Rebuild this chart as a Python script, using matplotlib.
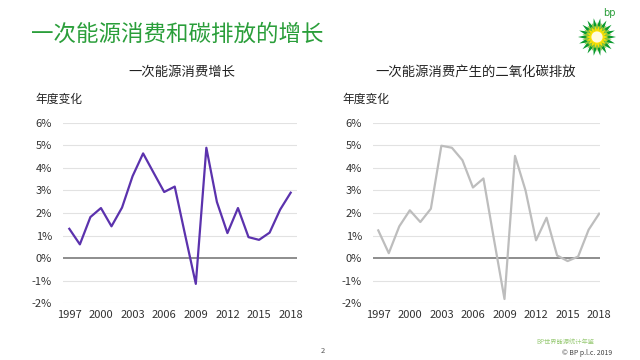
# 一次能源消费和碳排放的增长 (BP 2019)

import matplotlib
matplotlib.use("Agg")
import matplotlib.pyplot as plt
import numpy as np

plt.rcParams['font.family'] = ['Noto Sans CJK SC', 'DejaVu Sans']

years = list(range(1997, 2019))
energy_growth = [1.30, 0.61, 1.82, 2.22, 1.41, 2.24, 3.63, 4.64, 3.78, 2.93, 3.17,
                 1.00, -1.14, 4.89, 2.49, 1.11, 2.22, 0.93, 0.81, 1.13, 2.15, 2.90]
co2_growth = [1.23, 0.22, 1.41, 2.12, 1.60, 2.19, 4.98, 4.89, 4.34, 3.13, 3.53,
              0.83, -1.81, 4.53, 3.00, 0.79, 1.79, 0.12, -0.13, 0.07, 1.26, 1.97]
year_ticks = [1997, 2000, 2003, 2006, 2009, 2012, 2015, 2018]
pct_ticks = [-2, -1, 0, 1, 2, 3, 4, 5, 6]

title = "一次能源消费和碳排放的增长"
sub_left = "一次能源消费增长"
sub_right = "一次能源消费产生的二氧化碳排放"
ylab = "年度变化"

GREEN = "#2a9e3a"
W, H = 640, 360


def style_ax(ax, xlim):
    ax.set_xlim(*xlim)
    ax.set_ylim(-2, 6)
    for s in ax.spines.values():
        s.set_visible(False)
    ax.tick_params(length=0, labelsize=8, colors="#333333")
    ax.tick_params(axis='y', pad=8)
    ax.tick_params(axis='x', pad=5)
    ax.set_yticks(pct_ticks)
    ax.set_yticklabels([f"{v}%" for v in pct_ticks])
    ax.set_xticks(year_ticks)
    ax.set_xticklabels([str(y) for y in year_ticks])
    for v in pct_ticks:
        if v == 0:
            continue
        ax.axhline(v, color="#e2e2e2", lw=0.8, zorder=1)
    ax.axhline(0, color="#7a7a7a", lw=1.2, zorder=2)


def draw_logo(fig):
    lax = fig.add_axes([577 / W, 1 - 57 / H, 40 / W, 40 / H])
    lax.set_xlim(-1, 1)
    lax.set_ylim(-1, 1)
    lax.set_aspect('equal')
    lax.axis('off')
    layers = [(0.95, 0.55, "#0a9a2e", 18, 0.0),
              (0.75, 0.45, "#8cc63f", 18, np.pi / 18),
              (0.58, 0.35, "#ffe100", 18, 0.0)]
    for r_out, r_in, col, n, off in layers:
        for i in range(n):
            a = 2 * np.pi * i / n + off
            da = np.pi / n
            pts = [(r_in * np.cos(a - da), r_in * np.sin(a - da)),
                   (r_out * np.cos(a), r_out * np.sin(a)),
                   (r_in * np.cos(a + da), r_in * np.sin(a + da))]
            lax.add_patch(plt.Polygon(pts, color=col, lw=0))
        lax.add_patch(plt.Circle((0, 0), r_in, color=col, lw=0))
    lax.add_patch(plt.Circle((0, 0), 0.28, color="#fffbe0", lw=0))


def makeFig():
    fig = plt.figure(figsize=(6.4, 3.6), dpi=100)
    fig.patch.set_facecolor("white")

    fig.text(31 / W, 1 - 34 / H, title, color=GREEN, fontsize=16.2,
             va='center', ha='left')
    fig.text(181.5 / W, 1 - 72 / H, sub_left, fontsize=9.6, color="#222222",
             ha='center', va='center')
    fig.text(476 / W, 1 - 72 / H, sub_right, fontsize=9.6, color="#222222",
             ha='center', va='center')
    fig.text(35 / W, 1 - 99 / H, ylab, fontsize=8.5, color="#222222",
             ha='left', va='center')
    fig.text(342 / W, 1 - 99 / H, ylab, fontsize=8.5, color="#222222",
             ha='left', va='center')

    ax1 = fig.add_axes([63 / W, 1 - 303.3 / H, 234 / W, 180.6 / H])
    style_ax(ax1, (1996.4, 2018.6))
    ax1.plot(years, energy_growth, color="#5b32ad", lw=1.6, zorder=3)

    ax2 = fig.add_axes([373 / W, 1 - 303.3 / H, 227 / W, 180.6 / H])
    style_ax(ax2, (1996.5, 2018.08))
    ax2.plot(years, co2_growth, color="#bdbdbd", lw=1.6, zorder=3)

    draw_logo(fig)
    fig.text(609 / W, 1 - 13 / H, "bp", color=GREEN, fontsize=7,
             ha='center', va='center', family=['DejaVu Sans'])

    fig.text(323 / W, 1 - 351 / H, "2", fontsize=5.5, color="#555555",
             ha='center', va='center')
    fig.text(565 / W, 1 - 342 / H, "BP世界能源统计年鉴", fontsize=4.5,
             color="#9ccc7a", ha='center', va='center')
    fig.text(612 / W, 1 - 353 / H, "© BP p.l.c. 2019", fontsize=5,
             color="#444444", ha='right', va='center')

    fig.savefig("out.png", dpi=100, facecolor="white")


if __name__ == '__main__':
    makeFig()
